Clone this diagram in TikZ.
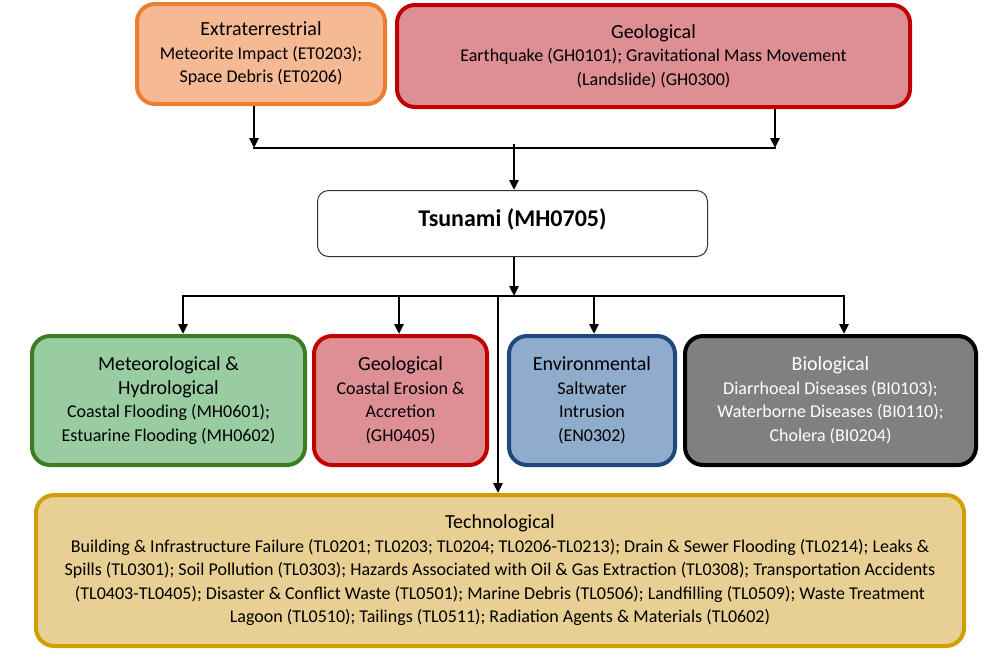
\documentclass[tikz,border=0pt]{standalone}
\usepackage{fontspec}
\setmainfont{Carlito}
\usetikzlibrary{arrows.meta}
\definecolor{etfill}{RGB}{245,185,148}
\definecolor{etdraw}{RGB}{237,125,49}
\definecolor{geofill}{RGB}{222,143,148}
\definecolor{geodraw}{RGB}{192,0,0}
\definecolor{mhfill}{RGB}{153,204,160}
\definecolor{mhdraw}{RGB}{59,125,35}
\definecolor{enfill}{RGB}{143,172,204}
\definecolor{endraw}{RGB}{31,73,125}
\definecolor{bifill}{RGB}{128,128,128}
\definecolor{tlfill}{RGB}{232,208,148}
\definecolor{tldraw}{RGB}{208,158,0}
\newcommand{\hdr}[1]{{\fontsize{20}{26}\selectfont #1}}
\tikzset{
  catbox/.style={rectangle, rounded corners=18pt, line width=4pt, align=center,
    inner sep=0pt, font=\fontsize{18}{23.5}\selectfont},
  tsubox/.style={rectangle, rounded corners=11pt, line width=1pt, draw=black!80, fill=white,
    align=center, inner sep=0pt, font=\bfseries\fontsize{24}{28}\selectfont},
  conn/.style={line width=2.5pt, black},
  arr/.style={conn, -{Triangle[length=10pt,width=9pt]}},
}
\begin{document}
\begin{tikzpicture}[x=1pt,y=-1pt]
\useasboundingbox (0,0) rectangle (992,657);
% top boxes
\node[catbox, draw=etdraw, fill=etfill, minimum width=248pt, minimum height=100pt] (et) at (261,54)
  {\hdr{Extraterrestrial}\\Meteorite Impact (ET0203);\\Space Debris (ET0206)};
\node[catbox, draw=geodraw, fill=geofill, minimum width=513pt, minimum height=102pt] (geot) at (653.5,56)
  {\hdr{Geological}\\Earthquake (GH0101); Gravitational Mass Movement\\(Landslide) (GH0300)};
% tsunami
\node[tsubox, minimum width=390pt, minimum height=66pt] (tsu) at (512.5,223.5) {\raisebox{11pt}{Tsunami (MH0705)}};
% lower boxes
\node[catbox, draw=mhdraw, fill=mhfill, minimum width=273pt, minimum height=129pt] (mh) at (168.5,400.5)
  {\hdr{Meteorological \&}\\\hdr{Hydrological}\\Coastal Flooding (MH0601);\\Estuarine Flooding (MH0602)};
\node[catbox, draw=geodraw, fill=geofill, minimum width=173pt, minimum height=129pt] (geob) at (400.5,400.5)
  {\hdr{Geological}\\Coastal Erosion \&\\Accretion\\(GH0405)};
\node[catbox, draw=endraw, fill=enfill, minimum width=166pt, minimum height=129pt] (en) at (592,400.5)
  {\hdr{Environmental}\\Saltwater\\Intrusion\\(EN0302)};
\node[catbox, draw=black, fill=bifill, text=white, minimum width=291pt, minimum height=129pt] (bi) at (830.5,400.5)
  {\hdr{Biological}\\Diarrhoeal Diseases (BI0103);\\Waterborne Diseases (BI0110);\\Cholera (BI0204)};
\node[catbox, draw=tldraw, fill=tlfill, minimum width=928pt, minimum height=151pt] (tl) at (500,570.5)
  {\hdr{Technological}\\
   Building \& Infrastructure Failure (TL0201; TL0203; TL0204; TL0206-TL0213); Drain \& Sewer Flooding (TL0214); Leaks \&\\
   Spills (TL0301); Soil Pollution (TL0303); Hazards Associated with Oil \& Gas Extraction (TL0308); Transportation Accidents\\
   (TL0403-TL0405); Disaster \& Conflict Waste (TL0501); Marine Debris (TL0506); Landfilling (TL0509); Waste Treatment\\
   Lagoon (TL0510); Tailings (TL0511); Radiation Agents \& Materials (TL0602)};
% junction coordinates
\coordinate (j1) at (254,148);
\coordinate (j2) at (775,148);
\coordinate (jm) at (514,148);
\coordinate (k1) at (183,296);
\coordinate (k2) at (399,296);
\coordinate (km) at (514,296);
\coordinate (kt) at (498,296);
\coordinate (k3) at (594,296);
\coordinate (k4) at (844,296);
% upper connectors
\draw[arr] (et.south -| j1) -- (j1);
\draw[arr] (geot.south -| j2) -- (j2);
\draw[conn] ([xshift=-1.25pt]j1) -- ([xshift=1.25pt]j2);
\draw[arr] ([yshift=4pt]jm) -- (tsu.north -| jm);
% lower connectors
\draw[arr] (tsu.south -| km) -- (km);
\draw[conn] ([xshift=-1.25pt]k1) -- ([xshift=1.25pt]k4);
\draw[arr] (k1) -- (mh.north -| k1);
\draw[arr] (k2) -- (geob.north -| k2);
\draw[arr] (k3) -- (en.north -| k3);
\draw[arr] (k4) -- (bi.north -| k4);
\draw[arr] (kt) -- (tl.north -| kt);
\end{tikzpicture}
\end{document}
